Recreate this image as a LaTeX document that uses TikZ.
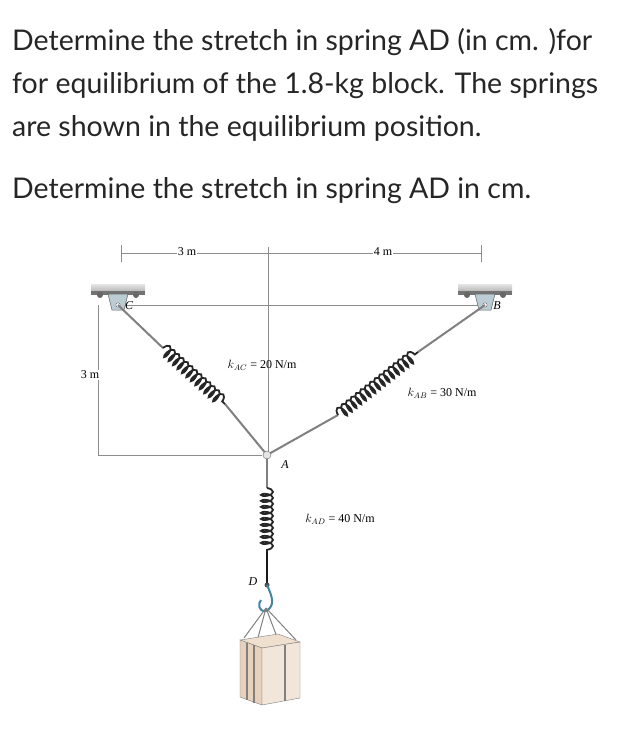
\documentclass[tikz,border=0pt]{standalone}
\usepackage{fontspec}
\setmainfont{Lato}
\newfontfamily\tms{Liberation Serif}
\usetikzlibrary{decorations.pathmorphing}
\tikzset{
 title/.style={anchor=west,font=\fontsize{28.5}{30}\selectfont,text=black!85,inner sep=0pt},
 lbl/.style={font=\tms\fontsize{12}{14}\selectfont,inner sep=1pt},
 dim/.style={draw=black!45,line width=0.6pt},
 rod/.style={draw=black!50,line width=2pt},
 coil/.style={draw=black!85,line width=1.8pt,decorate,decoration={coil,aspect=0.4,segment length=6pt,amplitude=6pt}},
 supp/.style={fill=cyan!25!gray!50,draw=black!60,line width=0.5pt},
}
\begin{document}
\begin{tikzpicture}[x=1pt,y=-1pt]
\useasboundingbox (0,0) rectangle (622,752);
\node[title] (t1) at (12,42) {Determine the stretch in spring AD (in cm. )for};
\node[title] (t2) at (12,86) {for equilibrium of the 1.8-kg block. The springs};
\node[title] (t3) at (12,128) {are shown in the equilibrium position.};
\node[title] (t4) at (12,191) {Determine the stretch in spring AD in cm.};
% geometry
\coordinate (C) at (118,305);
\coordinate (B) at (485,305);
\coordinate (A) at (267,455);
\coordinate (D) at (267,585);
% dimension lines
\draw[dim] (121,253) -- (481,253);
\draw[dim] (121,245) -- (121,262); \draw[dim] (481,245) -- (481,262);
\draw[dim] (268,247) -- (268,455);
\draw[dim] (C) -- (B);
\draw[dim] (98,305) -- (98,455) -- (262,455);
\node[lbl,fill=white] (d1) at (187,252) {3 m};
\node[lbl,fill=white] (d2) at (383,252) {4 m};
\node[lbl,fill=white] (d3) at (90,375) {3 m};
% supports
\foreach \x/\n in {118/sc,485/sb}{
 \shade[top color=gray!20,bottom color=gray!60] (\x-27,284) rectangle (\x+27,292);
 \fill[black!55] (\x-27,291) rectangle (\x+27,295);
 \path[supp] (\x-10,294) -- (\x+10,294) -- (\x+6,310) -- (\x-6,310) -- cycle;
 \fill[black!60] (\x-18,295) circle (3) (\x+18,295) circle (3);
}
\draw[fill=white,draw=black!60] (C) circle (2.2);
\draw[fill=white,draw=black!60] (B) circle (2.2);
\node[lbl,font=\tms\itshape\fontsize{12}{14}\selectfont] (lc) at (129,306) {C};
\node[lbl,font=\tms\itshape\fontsize{12}{14}\selectfont] (lb) at (497,306) {B};
% rods and springs
\coordinate (ac1) at (163,348); \coordinate (ac2) at (225,404);
\coordinate (ab1) at (338,415); \coordinate (ab2) at (418,352);
\coordinate (ad1) at (267,488); \coordinate (ad2) at (267,552);
\draw[rod] (C) -- (ac1); \draw[rod] (ac2) -- (A);
\draw[rod] (B) -- (ab2); \draw[rod] (ab1) -- (A);
\draw[rod] (A) -- (ad1);
\draw[coil] (ac1) -- (ac2);
\draw[coil] (ab1) -- (ab2);
\draw[coil] (ad1) -- (ad2);
\draw[black!90,line width=2pt] (ad2) -- (D);
\draw[fill=gray!20,draw=black!60] (A) circle (4);
\node[lbl] (la) at (285,465) {\itshape A};
\node[lbl] (ld) at (253,582) {\itshape D};
\node[lbl] (kac) at (262,365) {$k_{AC}$ = 20 N/m};
\node[lbl] (kab) at (442,393) {$k_{AB}$ = 30 N/m};
\node[lbl] (kad) at (340,519) {$k_{AD}$ = 40 N/m};
% hook
\fill[black!70] (D) circle (2.5);
\draw[cyan!60!black,line width=2pt] (D) .. controls (273,598) and (275,606) .. (266,611) .. controls (258,612) and (258,603) .. (261,600);
% slings and block
\draw[gray,line width=1pt] (266,608) -- (244,638) (266,608) -- (296,640) (266,608) -- (256,645) (266,608) -- (280,645);
\path[fill=brown!25!white,draw=gray] (240,640) -- (278,634) -- (300,642) -- (262,648) -- cycle;
\path[fill=brown!35!white,draw=gray] (240,640) -- (262,648) -- (262,705) -- (240,697) -- cycle;
\path[fill=brown!20!white,draw=gray] (262,648) -- (300,642) -- (300,698) -- (262,705) -- cycle;
\draw[gray,line width=1.2pt] (247,643) -- (247,700) (254,645) -- (254,703) (285,645) -- (285,701);
\end{tikzpicture}
\end{document}
